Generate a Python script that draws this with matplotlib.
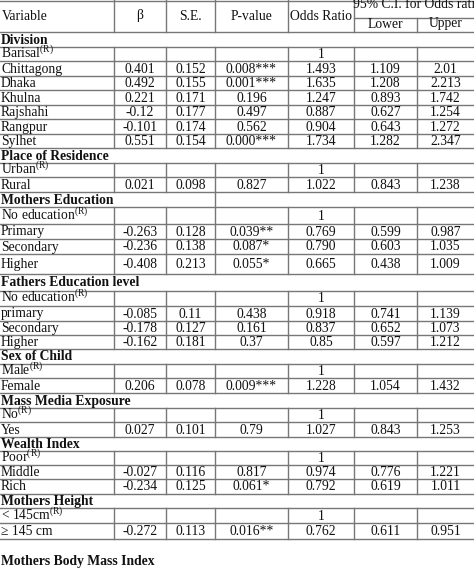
import matplotlib.pyplot as plt

plt.rcParams['font.family'] = ['Liberation Serif', 'DejaVu Serif']
plt.rcParams['mathtext.fontset'] = 'custom'
plt.rcParams['mathtext.rm'] = 'Liberation Serif'
plt.rcParams['mathtext.it'] = 'Liberation Serif'

# table content
headers = ['Variable', 'β', 'S.E.', 'P-value', 'Odds Ratio']
ci_header = '95% C.I. for Odds ratio'
ci_sub = ['Lower', 'Upper']

rows = [
    ('Division', None),
    ('Barisal$^{\\mathrm{(R)}}$', ['', '', '', '1', '', '']),
    ('Chittagong', ['0.401', '0.152', '0.008***', '1.493', '1.109', '2.01']),
    ('Dhaka', ['0.492', '0.155', '0.001***', '1.635', '1.208', '2.213']),
    ('Khulna', ['0.221', '0.171', '0.196', '1.247', '0.893', '1.742']),
    ('Rajshahi', ['-0.12', '0.177', '0.497', '0.887', '0.627', '1.254']),
    ('Rangpur', ['-0.101', '0.174', '0.562', '0.904', '0.643', '1.272']),
    ('Sylhet', ['0.551', '0.154', '0.000***', '1.734', '1.282', '2.347']),
    ('Place of Residence', None),
    ('Urban$^{\\mathrm{(R)}}$', ['', '', '', '1', '', '']),
    ('Rural', ['0.021', '0.098', '0.827', '1.022', '0.843', '1.238']),
    ('Mothers Education', None),
    ('No education$^{\\mathrm{(R)}}$', ['', '', '', '1', '', '']),
    ('Primary', ['-0.263', '0.128', '0.039**', '0.769', '0.599', '0.987']),
    ('Secondary', ['-0.236', '0.138', '0.087*', '0.790', '0.603', '1.035']),
    ('Higher', ['-0.408', '0.213', '0.055*', '0.665', '0.438', '1.009']),
    ('Fathers Education level', None),
    ('No education$^{\\mathrm{(R)}}$', ['', '', '', '1', '', '']),
    ('primary', ['-0.085', '0.11', '0.438', '0.918', '0.741', '1.139']),
    ('Secondary', ['-0.178', '0.127', '0.161', '0.837', '0.652', '1.073']),
    ('Higher', ['-0.162', '0.181', '0.37', '0.85', '0.597', '1.212']),
    ('Sex of Child', None),
    ('Male$^{\\mathrm{(R)}}$', ['', '', '', '1', '', '']),
    ('Female', ['0.206', '0.078', '0.009***', '1.228', '1.054', '1.432']),
    ('Mass Media Exposure', None),
    ('No$^{\\mathrm{(R)}}$', ['', '', '', '1', '', '']),
    ('Yes', ['0.027', '0.101', '0.79', '1.027', '0.843', '1.253']),
    ('Wealth Index', None),
    ('Poor$^{\\mathrm{(R)}}$', ['', '', '', '1', '', '']),
    ('Middle', ['-0.027', '0.116', '0.817', '0.974', '0.776', '1.221']),
    ('Rich', ['-0.234', '0.125', '0.061*', '0.792', '0.619', '1.011']),
    ('Mothers Height', None),
    ('< 145cm$^{\\mathrm{(R)}}$', ['', '', '', '1', '', '']),
    ('≥ 145 cm', ['-0.272', '0.113', '0.016**', '0.762', '0.611', '0.951']),
]
footer = 'Mothers Body Mass Index'

# layout (pixels)
col_x = [0, 114, 166, 215, 288, 354, 417, 474]
row_h = [14.5] * 11 + [15, 17, 15, 15, 20, 17, 15, 15, 14, 14, 15, 14, 15, 15, 14, 15, 14, 14, 14, 15, 14, 15, 16]
top = 32
line_c = '#777777'

fig = plt.figure(figsize=(4.74, 5.68), dpi=100)
ax = fig.add_axes([0, 0, 1, 1])
ax.set_xlim(0, 474)
ax.set_ylim(568, 0)
ax.axis('off')

def hline(y, x0=0, x1=474):
    ax.plot([x0, x1], [y, y], color=line_c, lw=1.0)

def vline(x, y0, y1):
    ax.plot([x, x], [y0, y1], color=line_c, lw=1.0)

def txt(x, y, s, ha='center', **kw):
    # y is the row centre; place baseline a bit below it
    ax.text(x, y + 4.5, s, fontsize=fs, va='baseline', ha=ha, color='#111111', **kw)

fs = 9.8
hline(0.5)
txt(2, 15, headers[0], ha='left')
for i, h in enumerate(headers[1:]):
    txt((col_x[i + 1] + col_x[i + 2]) / 2, 15, h)
txt((col_x[5] + col_x[7]) / 2 + 4, 3, ci_header)
hline(17.5, col_x[5], 474)
for i, s in enumerate(ci_sub):
    txt((col_x[5 + i] + col_x[6 + i]) / 2, 23, s)
for x in col_x[1:6]:
    vline(x, 0, top)
vline(col_x[6], 17.5, top)
hline(top)

y = top
for (label, vals), h in zip(rows, row_h):
    yc = y + h / 2
    if vals is None:
        txt(1, yc, label, ha='left', fontweight='bold')
        if label == 'Mothers Education':
            vline(col_x[3], y, y + h)
    else:
        txt(1, yc, label, ha='left')
        for i, v in enumerate(vals):
            txt((col_x[i + 1] + col_x[i + 2]) / 2, yc, v)
        for x in col_x[1:7]:
            vline(x, y, y + h)
    y += h
    hline(y)

txt(1, 561, footer, ha='left', fontweight='bold')

fig.savefig('out.png', dpi=100)
